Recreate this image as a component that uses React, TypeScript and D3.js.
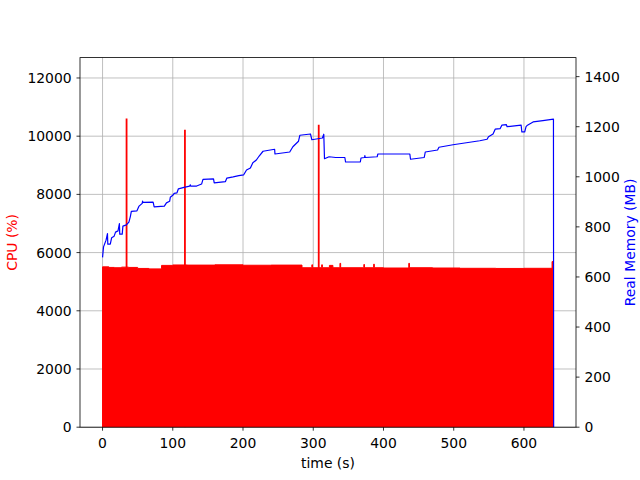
import React from "react";
import * as d3 from "d3";

// memory samples (time s, MB)
const memTime = [
  0, 1.4, 5, 7, 7.5, 11, 13, 16.5, 18.5, 22, 24, 24.5, 28, 29, 34, 37.5, 39.5, 41, 49, 52,
  56.5, 57, 57.5, 72, 73.5, 88, 91, 95.5, 96.5, 100, 102, 106, 108, 116, 124, 125, 125.5, 134,
  141, 143, 158, 159, 175, 177, 186, 194, 201, 205, 210.5, 214, 219, 223, 228.5, 245, 245.5,
  266.5, 271, 279, 281, 296, 298, 313, 315, 316, 322.5, 332, 345, 346, 367, 368, 373, 373.5,
  374, 391, 392, 437.5, 438.5, 458, 459.5, 477, 479, 499, 518, 537, 547.5, 549.5, 556, 559,
  566, 568.5, 575, 576, 596, 597, 601, 603, 605, 613, 627, 642, 642.3,
];
const memMB = [
  678, 720, 747, 773, 731, 731, 757, 763, 779, 784, 813, 771, 771, 803, 808, 819, 840, 862, 864, 883,
  894, 903, 898, 899, 880, 883, 896, 902, 918, 926, 934, 936, 952, 958, 963, 968, 963, 963,
  971, 990, 992, 976, 981, 995, 1000, 1005, 1008, 1027, 1035, 1056, 1067, 1083, 1102, 1110, 1091,
  1099, 1120, 1142, 1166, 1171, 1148, 1155, 1170, 1072, 1080, 1077, 1077, 1059, 1059, 1075, 1077, 1085,
  1077, 1080, 1091, 1091, 1070, 1077, 1099, 1107, 1118, 1128, 1136, 1144, 1150, 1160, 1171, 1190,
  1192, 1206, 1208, 1200, 1206, 1179, 1179, 1200, 1206, 1219, 1224, 1230, 0,
];

// CPU upper envelope (step starts, %)
const cpuTime = [
  0, 9, 17, 27, 37, 50, 66, 84, 100, 121, 160, 200, 240, 284, 298, 299, 312, 313, 323, 328,
  338, 339, 372, 373, 386, 387, 400, 436, 437, 470, 509, 560, 600, 640, 642,
];
const cpuPeak = [
  5510, 5490, 5480, 5500, 5490, 5455, 5440, 5560, 5575, 5570, 5580, 5565, 5570, 5480, 5580, 5480, 5580, 5480, 5560, 5480,
  5630, 5480, 5590, 5480, 5600, 5480, 5470, 5630, 5480, 5470, 5460, 5455, 5460, 5690, 0,
];

// spikes
const spikeTime = [34.2, 117.3, 307.8];
const spikeCPU = [10610, 10220, 10390];

const xTicks = [0, 100, 200, 300, 400, 500, 600];
const cpuTicks = [0, 2000, 4000, 6000, 8000, 10000, 12000];
const memTicks = [0, 200, 400, 600, 800, 1000, 1200, 1400];

const W = 640;
const H = 480;
const L = 80;
const R = 576;
const T = 57.6;
const B = 427.2;
const FONT = "DejaVu Sans, sans-serif";
const FS = 13.9;

export default function App() {
  const x = d3.scaleLinear().domain([-32.1, 674.1]).range([L, R]);
  const yCpu = d3.scaleLinear().domain([0, 12700]).range([B, T]);
  const yMem = d3.scaleLinear().domain([0, 1476]).range([B, T]);

  const cpuArea = d3
    .area<number>()
    .x((_, i) => x(cpuTime[i]))
    .y0(yCpu(0))
    .y1((d) => yCpu(d))
    .curve(d3.curveStepAfter);

  const memLine = d3
    .line<number>()
    .x((_, i) => x(memTime[i]))
    .y((d) => yMem(d));

  return (
    <svg
      width={W}
      height={H}
      style={{ position: "absolute", left: 0, top: 0, background: "#fff" }}
      fontFamily={FONT}
      fontSize={FS}
    >
      <defs>
        <clipPath id="plot">
          <rect x={L} y={T} width={R - L} height={B - T} />
        </clipPath>
      </defs>
      <rect x={0} y={0} width={W} height={H} fill="#fff" />

      {/* grid */}
      {xTicks.map((t) => (
        <line key={"gx" + t} x1={x(t)} x2={x(t)} y1={T} y2={B} stroke="#b0b0b0" strokeWidth={0.8} />
      ))}
      {cpuTicks.map((t) => (
        <line key={"gy" + t} x1={L} x2={R} y1={yCpu(t)} y2={yCpu(t)} stroke="#b0b0b0" strokeWidth={0.8} />
      ))}

      <g clipPath="url(#plot)">
        <path d={cpuArea(cpuPeak) || ""} fill="#ff0000" stroke="#ff0000" strokeWidth={1} />
        {spikeTime.map((t, i) => (
          <line
            key={"sp" + i}
            x1={x(t)}
            x2={x(t)}
            y1={yCpu(0)}
            y2={yCpu(spikeCPU[i])}
            stroke="#ff0000"
            strokeWidth={1.8}
          />
        ))}
        <path d={memLine(memMB) || ""} fill="none" stroke="#0000ff" strokeWidth={1.2} strokeLinejoin="round" />
      </g>

      {/* spines */}
      <rect x={L} y={T} width={R - L} height={B - T} fill="none" stroke="#000" strokeWidth={0.8} />

      {/* x axis */}
      {xTicks.map((t) => (
        <g key={"xt" + t}>
          <line x1={x(t)} x2={x(t)} y1={B} y2={B + 3.5} stroke="#000" strokeWidth={0.8} />
          <text x={x(t)} y={448.3} textAnchor="middle" fill="#000">
            {t}
          </text>
        </g>
      ))}
      <text x={(L + R) / 2} y={467.5} textAnchor="middle" fill="#000">
        time (s)
      </text>

      {/* left axis */}
      {cpuTicks.map((t) => (
        <g key={"yl" + t}>
          <line x1={L - 3.5} x2={L} y1={yCpu(t)} y2={yCpu(t)} stroke="#000" strokeWidth={0.8} />
          <text x={L - 8.4} y={yCpu(t) + 5} textAnchor="end" fill="#000">
            {t}
          </text>
        </g>
      ))}
      <text transform={`translate(16.5,${(T + B) / 2}) rotate(-90)`} textAnchor="middle" fill="#ff0000">
        CPU (%)
      </text>

      {/* right axis */}
      {memTicks.map((t) => (
        <g key={"yr" + t}>
          <line x1={R} x2={R + 3.5} y1={yMem(t)} y2={yMem(t)} stroke="#000" strokeWidth={0.8} />
          <text x={R + 8.4} y={yMem(t) + 5} textAnchor="start" fill="#000">
            {t}
          </text>
        </g>
      ))}
      <text transform={`translate(635,${(T + B) / 2}) rotate(-90)`} textAnchor="middle" fill="#0000ff">
        Real Memory (MB)
      </text>
    </svg>
  );
}
